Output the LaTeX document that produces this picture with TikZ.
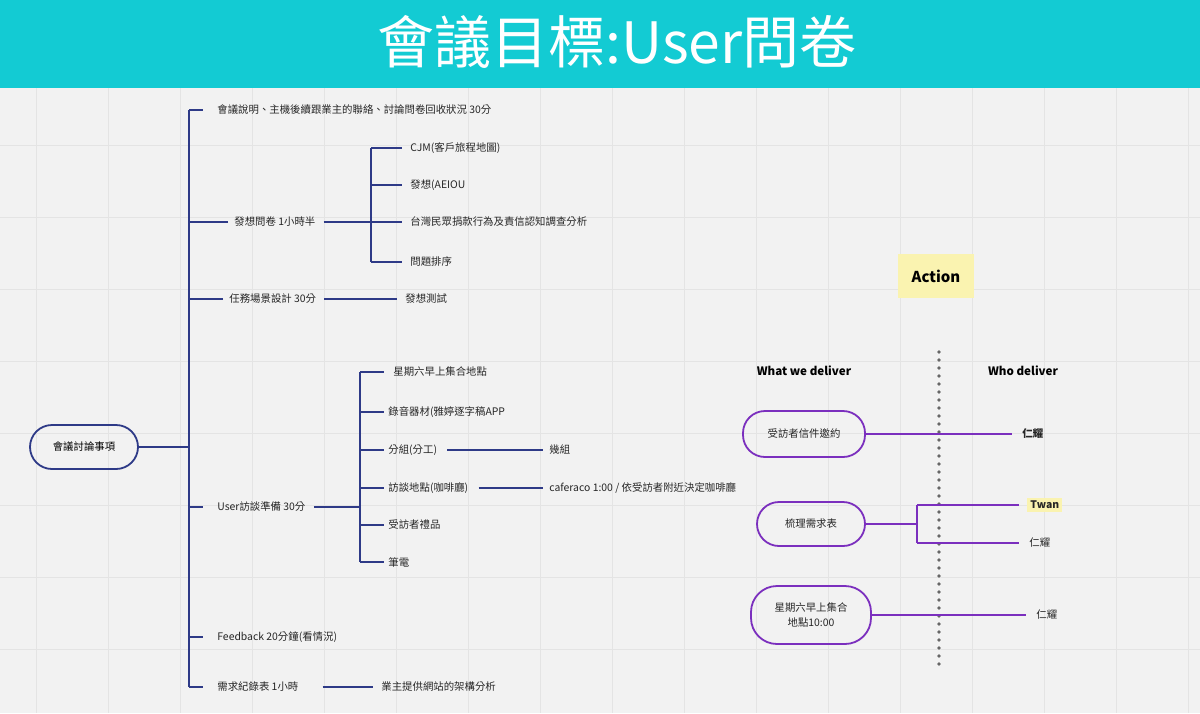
\documentclass[tikz,border=0pt]{standalone}
\usepackage{fontspec}
\setmainfont{Noto Sans CJK TC}
\usetikzlibrary{positioning}
\definecolor{navy}{HTML}{2E3A87}
\definecolor{purp}{HTML}{7B2FBE}
\definecolor{teal}{HTML}{13CBD3}
\definecolor{bg}{HTML}{F2F2F2}
\definecolor{grid}{HTML}{E4E4E4}
\definecolor{note}{HTML}{FAF3B0}
\tikzset{
  txt/.style={anchor=west,inner sep=1pt,font=\fontsize{5.2}{7}\selectfont,text=black!85},
  br/.style={navy,line width=0.8pt},
  pbr/.style={purp,line width=0.8pt},
  pill/.style={draw=purp,line width=0.9pt,rounded corners=11pt,align=center,
    font=\fontsize{5.2}{7.5}\selectfont,text=black!85}
}
\begin{document}
\begin{tikzpicture}[x=0.5pt,y=-0.5pt]
\useasboundingbox (0,0) rectangle (1200,713);
\fill[bg] (0,0) rectangle (1200,713);
\foreach \x in {36,108,...,1200} \draw[grid,line width=0.4pt] (\x,88) -- (\x,713);
\foreach \y in {145,217,...,713} \draw[grid,line width=0.4pt] (0,\y) -- (1200,\y);
\fill[teal] (0,0) rectangle (1200,88);
\node (title) at (617,42) {\color{white}\fontsize{28.5}{32}\selectfont 會議目標:User問卷};
% left tree
\node[draw=navy,line width=0.9pt,rounded corners=11pt,minimum width=54pt,minimum height=22pt,
  font=\fontsize{5.2}{7}\selectfont] (root) at (84,447) {會議討論事項};
\coordinate (tt) at (189,110);
\coordinate (tb) at (189,687);
\coordinate (tm) at (189,447);
\draw[br] (tt) -- (tb);
\draw[br] (root) -- (tm);
\node[txt] (a1) at (215,110) {會議說明、主機後續跟業主的聯絡、討論問卷回收狀況 30分};
\node[txt] (a2) at (232,222) {發想問卷 1小時半};
\node[txt] (a3) at (227,299) {任務場景設計 30分};
\node[txt] (a4) at (215,507) {User訪談準備 30分};
\node[txt] (a5) at (215,637) {Feedback 20分鐘(看情況)};
\node[txt] (a6) at (215,687) {需求紀錄表 1小時};
\foreach \n in {a1,a2,a3,a4,a5,a6} \draw[br] (189,0 |- \n.west) -- ++(14,0);
\draw[br] (a2.west) ++(-4,0) -- +(-35,0);
\draw[br] (a3.west) ++(-4,0) -- +(-30,0);
% 發想問卷
\node[txt] (b1) at (408,148) {CJM(客戶旅程地圖)};
\node[txt] (b2) at (408,185) {發想(AEIOU};
\node[txt] (b3) at (408,222) {台灣民眾捐款行為及責信認知調查分析};
\node[txt] (b4) at (408,262) {問題排序};
\coordinate (bt) at (371,148);
\coordinate (bb) at (371,262);
\draw[br] (bt) -- (bb);
\draw[br,line width=1.1pt] (a2.east) ++(6,0) -- (371,222);
\foreach \n in {b1,b2,b3,b4} \draw[br] (371,0 |- \n.west) -- ++(31,0);
\node[txt] (c1) at (403,299) {發想測試};
\draw[br] (a3.east) ++(6,0) -- ([xshift=-3pt]c1.west);
% User訪談準備
\node[txt] (d1) at (391,372) {星期六早上集合地點};
\node[txt] (d2) at (386,412) {錄音器材(雅婷逐字稿APP};
\node[txt] (d3) at (386,450) {分組(分工)};
\node[txt] (d4) at (386,488) {訪談地點(咖啡廳)};
\node[txt] (d5) at (386,525) {受訪者禮品};
\node[txt] (d6) at (386,562) {筆電};
\coordinate (dt) at (360,372);
\coordinate (db) at (360,562);
\draw[br] (dt) -- (db);
\draw[br] (a4.east) ++(6,0) -- (360,507);
\foreach \n in {d1,d2,d3,d4,d5,d6} \draw[br] (360,0 |- \n.west) -- ++(24,0);
\node[txt] (e1) at (547,450) {幾組};
\node[txt] (e2) at (547,488) {caferaco 1:00 / 依受訪者附近決定咖啡廳};
\draw[br] (d3.east) ++(8,0) -- ([xshift=-2pt]e1.west);
\draw[br] (d4.east) ++(8,0) -- ([xshift=-2pt]e2.west);
\node[txt] (f1) at (379,687) {業主提供網站的架構分析};
\draw[br] (a6.east) ++(22,0) -- ([xshift=-3pt]f1.west);
% Action
\node[fill=note,minimum width=38pt,minimum height=22pt,font=\bfseries\fontsize{7.5}{9}\selectfont] (act) at (936,276) {Action};
\coordinate (vt) at (939,352);
\coordinate (vb) at (939,668);
\draw[gray!80!black,line width=1.8pt,line cap=round,dash pattern=on 0pt off 4pt] (vt) -- (vb);
\node[font=\bfseries\fontsize{5.8}{7}\selectfont] (h1) at (804,371) {What we deliver};
\node[font=\bfseries\fontsize{5.8}{7}\selectfont] (h2) at (1023,371) {Who deliver};
\node[pill,minimum width=61pt,minimum height=23pt] (p1) at (804,434) {受訪者信件邀約};
\node[pill,minimum width=54pt,minimum height=22pt] (p2) at (811,524) {梳理需求表};
\node[pill,minimum width=60pt,minimum height=29pt,rounded corners=13pt] (p3) at (811,615) {星期六早上集合\\地點10:00};
\node[txt,font=\bfseries\fontsize{5.2}{7}\selectfont] (w1) at (1020,434) {仁耀};
\node[txt,fill=note,inner sep=1.5pt,font=\bfseries\fontsize{5.2}{7}\selectfont] (w2) at (1027,505) {Twan};
\node[txt] (w3) at (1027,543) {仁耀};
\node[txt] (w4) at (1034,615) {仁耀};
\coordinate (k) at (917,524);
\draw[pbr] (p1) -- ([xshift=-4pt]w1.west);
\draw[pbr] (p2) -- (k);
\draw[pbr] (917,505) -- (917,543);
\draw[pbr] (917,505) -- ([xshift=-4pt]w2.west);
\draw[pbr] (917,543) -- ([xshift=-4pt]w3.west);
\draw[pbr] (p3) -- ([xshift=-4pt]w4.west);
\end{tikzpicture}
\end{document}
